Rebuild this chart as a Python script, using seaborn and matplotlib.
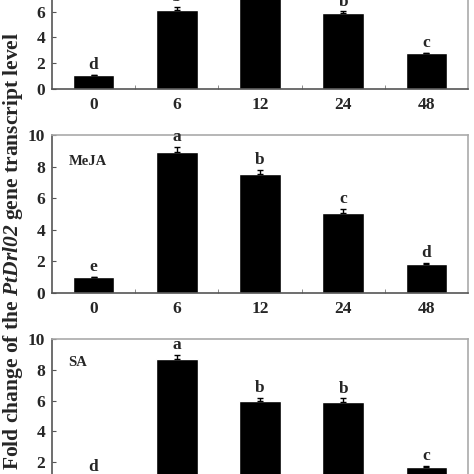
import numpy as np
import pandas as pd
import matplotlib
matplotlib.use('Agg')
import matplotlib.pyplot as plt
import seaborn as sns

# Time points (h) and fold-change values
hours = ['0', '6', '12', '24', '48']

# top panel (treatment name cut off in the picture)
top_vals = [1.05, 6.1, 7.6, 5.9, 2.77]
top_err = [0.05, 0.25, 0.25, 0.12, 0.05]
top_letters = ['d', 'b', 'a', 'b', 'c']

# MeJA
meja_vals = [1.0, 8.95, 7.55, 5.08, 1.84]
meja_err = [0.04, 0.3, 0.25, 0.25, 0.05]
meja_letters = ['e', 'a', 'b', 'c', 'd']

# SA
sa_vals = [1.0, 8.7, 5.95, 5.89, 1.68]
sa_err = [0.04, 0.25, 0.25, 0.25, 0.06]
sa_letters = ['d', 'a', 'b', 'b', 'c']

sns.set_style('ticks')
plt.rcParams['font.family'] = ['Liberation Serif', 'DejaVu Serif']
plt.rcParams['font.weight'] = 'bold'
plt.rcParams['mathtext.fontset'] = 'custom'
plt.rcParams['mathtext.bfit'] = 'Liberation Serif:italic:bold'

fig = plt.figure(figsize=(4.74, 4.74), dpi=100)

# axes boxes in figure fractions; top and bottom panels run past the edge
panels = [
    dict(rect=[0.1097, 0.8122, 0.8776, 0.327], vals=top_vals, err=top_err,
         letters=top_letters, ymax=12, name=None),
    dict(rect=[0.1097, 0.3819, 0.8776, 0.3333], vals=meja_vals, err=meja_err,
         letters=meja_letters, ymax=10, name=('MeJA', 8.3)),
    dict(rect=[0.1097, -0.0401, 0.8776, 0.3249], vals=sa_vals, err=sa_err,
         letters=sa_letters, ymax=10, name=('SA', 8.45)),
]

for p in panels:
    ax = fig.add_axes(p['rect'])
    df = pd.DataFrame({'hour': hours, 'fold': p['vals']})
    sns.barplot(data=df, x='hour', y='fold', order=hours, color='black',
                width=0.5, errorbar=None, ax=ax, saturation=1)
    x = np.arange(len(hours))
    ax.errorbar(x, p['vals'], yerr=[np.zeros(len(hours)), p['err']],
                fmt='none', ecolor='black', elinewidth=1, capsize=2.5, capthick=1)
    for i, (v, e, l) in enumerate(zip(p['vals'], p['err'], p['letters'])):
        ax.text(i, v + e + 0.12, l, ha='center', va='bottom',
                fontsize=12.5, fontweight='bold')
    if p['name']:
        ax.text(-0.3, p['name'][1], p['name'][0], ha='left', va='center',
                fontsize=10.5, fontweight='bold')

    ax.set_xlim(-0.5, 4.5)
    ax.set_ylim(0, p['ymax'])
    ax.set_yticks(range(0, p['ymax'] + 1, 2))
    ax.set_xlabel('')
    ax.set_ylabel('')
    ax.set_xticks(x)
    ax.set_xticklabels(hours)
    ax.set_xticks(x[:-1] + 0.5, minor=True)
    ax.tick_params(axis='x', which='major', length=0, pad=6, labelsize=12.5)
    ax.tick_params(axis='x', which='minor', direction='in', length=3,
                   color='#777777')
    ax.tick_params(axis='y', direction='in', length=3, pad=5, labelsize=12.5,
                   color='#555555')
    for lab in ax.get_xticklabels() + ax.get_yticklabels():
        lab.set_fontweight('bold')
    for side in ['left', 'bottom']:
        ax.spines[side].set_color('#555555')
        ax.spines[side].set_linewidth(1.2)
    for side in ['top', 'right']:
        ax.spines[side].set_visible(True)
        ax.spines[side].set_color('#aaaaaa')
        ax.spines[side].set_linewidth(1.2)

fig.text(0.028, 0.47,
         r'Fold change of the $\mathbfit{PtDrl02}$ gene transcript level',
         rotation=90, ha='center', va='center', fontsize=15.5, fontweight='bold')

fig.savefig('out.png', dpi=100)
